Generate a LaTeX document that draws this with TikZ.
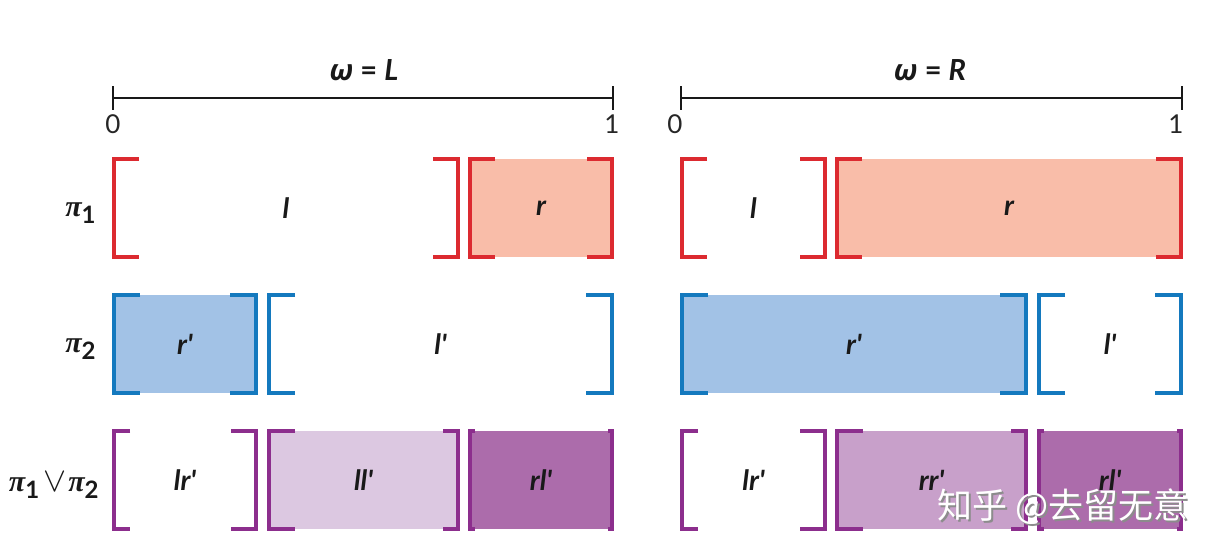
\documentclass[tikz,border=0pt]{standalone}
\usepackage{fontspec}
\usetikzlibrary{fit}
\setmainfont{Lato}[Ligatures=TeXOff]
\newfontfamily\greeksf{Open Sans}
\newfontfamily\greeksr{Liberation Serif}
\newfontfamily\cjk{Noto Sans CJK SC}
\definecolor{cred}{HTML}{DC2A30}
\definecolor{fred}{HTML}{F9BDA9}
\definecolor{cblue}{HTML}{1479BE}
\definecolor{fblue}{HTML}{A2C2E6}
\definecolor{cpur}{HTML}{8C2E8D}
\definecolor{fpurA}{HTML}{DCC8E1}
\definecolor{fpurB}{HTML}{C8A0CA}
\definecolor{fpurC}{HTML}{AC6CAB}
\newcommand\pisym{{\greeksr\bfseries\itshape π}}
\newcommand\pisub[1]{\pisym\raisebox{-0.45ex}{\fontsize{12}{13}\selectfont\bfseries #1}}
\newcommand\segbox[9]{%
  \node[segfill, fill=#5, fit={(#2+2,#4) (#3-2,#4+98)}] (#1) {};
  \draw[brk, draw=#6] ([xshift=#7*0.5pt]#1.north west) -- (#1.north west) -- (#1.south west) -- ([xshift=#7*0.5pt]#1.south west);
  \draw[brk, draw=#6] ([xshift=-#8*0.5pt]#1.north east) -- (#1.north east) -- (#1.south east) -- ([xshift=-#8*0.5pt]#1.south east);
  \node[lab] (#1-t) at (#1.center) {#9};
}
\tikzset{
  segfill/.style={inner sep=0pt, outer sep=0pt, draw=none},
  brk/.style={line width=2pt, line cap=butt, line join=miter},
  lab/.style={font=\fontsize{14}{16}\selectfont\bfseries\itshape, text=black!90},
  rowlab/.style={font=\fontsize{15}{17}\selectfont, anchor=east, text=black!90, inner sep=0pt},
  axisl/.style={line width=1.4pt, draw=black!90},
  tick/.style={line width=1.4pt, draw=black!90},
  num/.style={font=\fontsize{13}{15}\selectfont, text=black!85},
  ttl/.style={font=\fontsize{14.5}{16}\selectfont\bfseries, text=black!90},
  wm/.style={font=\cjk\fontsize{17.5}{19}\selectfont, text=white},
  wmsh/.style={font=\cjk\fontsize{17.5}{19}\selectfont, text=black!45},
}
\begin{document}
\begin{tikzpicture}[x=0.5pt,y=-0.5pt]
\useasboundingbox[fill=white] (0,0) rectangle (1229,558);
% titles
\node[ttl] (tL) at (364,70) {{\greeksf\itshape ω} = \textit{L}};
\node[ttl] (tR) at (930,70) {{\greeksf\itshape ω} = \textit{R}};
% axes
\coordinate (aL0) at (113,98); \coordinate (aL1) at (613,98);
\coordinate (aR0) at (681,98); \coordinate (aR1) at (1182,98);
\draw[axisl] (aL0) -- (aL1);
\draw[axisl] (aR0) -- (aR1);
\foreach \c in {aL0,aL1,aR0,aR1}{\draw[tick] ([yshift=6pt]\c) -- ([yshift=-6pt]\c);}
\node[num] (nL0) at (113,124) {0};
\node[num] (nL1) at (612,124) {1};
\node[num] (nR0) at (675,124) {0};
\node[num] (nR1) at (1176,124) {1};
% row labels
\node[rowlab] (p1) at (96,213) {\pisub{1}};
\node[rowlab] (p2) at (96,349) {\pisub{2}};
\node[rowlab] (p12) at (99,485) {\pisub{1}\kern2pt{\fontsize{17}{17}\selectfont$\vee$}\kern1pt\pisub{2}};
% row 1 (pi_1)
\segbox{a1}{112}{460}{159}{white}{cred}{25}{25}{l}
\segbox{a2}{468}{614}{159}{fred}{cred}{25}{25}{r}
\segbox{b1}{680}{827}{159}{white}{cred}{25}{25}{l}
\segbox{b2}{835}{1183}{159}{fred}{cred}{25}{25}{r}
% row 2 (pi_2)
\segbox{a3}{112}{258}{295}{fblue}{cblue}{26}{26}{r'}
\segbox{a4}{267}{614}{295}{white}{cblue}{26}{26}{l'}
\segbox{b3}{680}{1028}{295}{fblue}{cblue}{26}{26}{r'}
\segbox{b4}{1037}{1183}{295}{white}{cblue}{26}{26}{l'}
% row 3 (join)
\segbox{a5}{112}{258}{431}{white}{cpur}{16}{25}{lr'}
\segbox{a6}{267}{460}{431}{fpurA}{cpur}{26}{15}{ll'}
\segbox{a7}{468}{614}{431}{fpurC}{cpur}{5}{4}{rl'}
\segbox{b5}{680}{827}{431}{white}{cpur}{16}{25}{lr'}
\segbox{b6}{835}{1028}{431}{fpurB}{cpur}{26}{15}{rr'}
\segbox{b7}{1037}{1183}{431}{fpurC}{cpur}{5}{4}{rl'}
% watermark
\node[wmsh] (wms) at (1065,509) {知乎 @去留无意};
\node[wm] (wmt) at (1063,507) {知乎 @去留无意};
\end{tikzpicture}
\end{document}
